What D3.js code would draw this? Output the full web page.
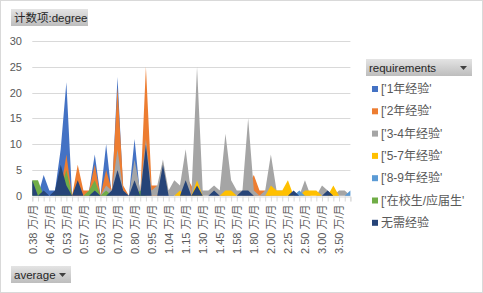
<!DOCTYPE html>
<html>
<head>
<meta charset="utf-8">
<script src="https://cdn.jsdelivr.net/npm/d3@7/dist/d3.min.js"></script>
<style>
  body { margin: 0; background: #fff; }
  text { font-family: "Liberation Sans", "Noto Sans CJK SC", sans-serif; }
</style>
</head>
<body>
<div id="chart"></div>
<script>
// salary buckets (only every 3rd one is labelled on the axis)
const cats = ['0.38','0.40','0.42','0.46','0.48','0.50','0.53','0.55','0.56','0.57',
  '0.58','0.60','0.63','0.65','0.67','0.70','0.73','0.75','0.80','0.83',
  '0.85','0.95','0.98','1.00','1.04','1.08','1.10','1.15','1.20','1.25',
  '1.30','1.35','1.40','1.45','1.50','1.55','1.58','1.60','1.75','1.80',
  '1.83','1.90','2.00','2.08','2.20','2.25','2.30','2.40','2.50','2.60',
  '2.75','3.00','3.25','3.33','3.50','4.00','4.50'];

const seriesNames = ["['1年经验'", "['2年经验'", "['3-4年经验'", "['5-7年经验'", "['8-9年经验'", "['在校生/应届生'", "无需经验"];
const colors = ['#4472C4', '#ED7D31', '#A5A5A5', '#FFC000', '#5B9BD5', '#70AD47', '#264478'];

const exp1 = [0,0,4,1,1,9,22,0,0,0, 1,8,0,10,0,23,1,0,11,0, 0,0,0,0,1,0,0,0,0,0, 0,0,0,0,0,0,0,0,0,0, 0,0,0,0,0,0,0,0,0,0, 0,0,0,0,0,0,0];
const exp2 = [0,0,0,0,0,1,8,0,6,1, 1,6,0,5,1,21,2,0,2,0, 25,2,2,0,0,0,0,4,2,0, 0,0,0,1,0,0,0,0,2,4, 1,1,0,0,0,0,0,0,0,0, 0,0,0,0,0,0,0];
const exp34 = [0,0,0,0,0,0,0,0,0,0, 0,0,0,2,1,9,1,0,7,1, 11,1,2,7,1,3,2,9,0,25, 1,1,2,1,12,3,1,1,15,1, 0,1,8,1,1,0,0,0,3,0, 0,2,1,0,1,1,0];
const exp57 = [0,0,0,0,0,0,0,0,0,0, 0,0,0,0,0,0,0,0,0,0, 0,0,0,0,0,0,1,0,0,3, 0,0,0,0,1,1,0,0,0,0, 0,0,2,1,1,3,0,0,1,1, 1,0,0,2,0,0,0];
const exp89 = [0,0,0,0,0,0,0,0,0,0, 0,0,0,0,0,0,0,0,0,0, 0,0,0,0,0,0,0,0,0,0, 0,0,0,0,0,0,0,0,0,0, 0,0,0,0,0,0,0,1,0,0, 0,0,0,0,0,0,1];
const student = [3,3,0,0,0,1,5,0,0,0, 1,3,0,1,0,0,0,0,0,1, 0,0,0,0,0,0,0,0,0,0, 0,0,0,0,0,0,0,0,0,0, 0,0,0,0,0,0,0,0,0,0, 0,0,0,0,0,0,0];
const noExp = [3,0,1,0,1,6,2,0,3,0, 0,1,0,0,1,5,1,0,3,0, 10,0,0,6,0,0,0,3,0,2, 0,0,1,0,0,0,0,1,1,0, 0,0,0,0,0,0,1,0,0,0, 0,0,1,0,0,0,0];

const series = [exp1, exp2, exp34, exp57, exp89, student, noExp];
const yTicks = [0, 5, 10, 15, 20, 25, 30];

const width = 483, height = 293;
const plot = { left: 32.3, right: 350.4, top: 41, bottom: 195.7 };

const svg = d3.select('#chart').append('svg')
  .attr('width', width)
  .attr('height', height);

svg.append('rect')
  .attr('x', 0.5).attr('y', 0.5)
  .attr('width', width - 1).attr('height', height - 1)
  .attr('fill', '#fff').attr('stroke', '#d9d9d9');

const x = d3.scalePoint().domain(cats).range([plot.left, plot.right]);
const y = d3.scaleLinear().domain([0, 30]).range([plot.bottom, plot.top]);

// gridlines
svg.append('g')
  .selectAll('line')
  .data(yTicks.slice(1))
  .join('line')
    .attr('x1', plot.left).attr('x2', plot.right)
    .attr('y1', d => Math.round(y(d)) + 0.5).attr('y2', d => Math.round(y(d)) + 0.5)
    .attr('stroke', '#d9d9d9');

// y axis labels
svg.append('g')
  .attr('transform', 'translate(22,0)')
  .call(d3.axisLeft(y).tickValues(yTicks).tickSize(0).tickPadding(0))
  .call(g => g.select('.domain').remove())
  .selectAll('text')
    .attr('font-size', '11px')
    .attr('fill', '#595959')
    .style('font-family', '"Liberation Sans", sans-serif');

// areas, drawn back to front in series order
const area = d3.area()
  .x((d, i) => x(cats[i]))
  .y0(y(0))
  .y1(d => y(d));

svg.append('g')
  .selectAll('path')
  .data(series)
  .join('path')
    .attr('d', d => area(d))
    .attr('fill', (d, i) => colors[i]);

// x axis
const xAxis = svg.append('g')
  .attr('transform', `translate(0,${Math.round(plot.bottom) + 0.5})`)
  .call(d3.axisBottom(x).tickSize(5).tickPadding(3)
    .tickFormat((d, i) => i % 3 === 0 ? d + ' 万/月' : ''));
xAxis.select('.domain').attr('stroke', '#d9d9d9');
xAxis.selectAll('.tick line').attr('stroke', '#d9d9d9');
xAxis.selectAll('text')
  .attr('font-size', '11px')
  .attr('fill', '#595959')
  .attr('transform', 'rotate(-90)')
  .attr('text-anchor', 'end')
  .attr('x', -8)
  .attr('y', 0)
  .attr('dy', '0.35em');

// pivot field buttons
const defs = svg.append('defs');
const grad = defs.append('linearGradient')
  .attr('id', 'btnGrad').attr('x1', 0).attr('y1', 0).attr('x2', 0).attr('y2', 1);
grad.append('stop').attr('offset', '0%').attr('stop-color', '#e4e4e4');
grad.append('stop').attr('offset', '100%').attr('stop-color', '#bdbdbd');

function fieldButton(bx, by, bw, label, arrow) {
  const g = svg.append('g').attr('transform', `translate(${bx},${by})`);
  g.append('rect')
    .attr('width', bw).attr('height', 17)
    .attr('fill', 'url(#btnGrad)');
  g.append('text')
    .attr('x', 3).attr('y', 13)
    .attr('font-size', '11.5px')
    .attr('fill', '#262626')
    .text(label);
  if (arrow) {
    g.append('path')
      .attr('d', `M${bw - 12},7 h7 l-3.5,4 z`)
      .attr('fill', '#404040');
  }
}

fieldButton(11, 9, 77, '计数项:degree', false);
fieldButton(366, 59, 106, 'requirements', true);
fieldButton(11, 266, 60, 'average', true);

// legend
const legend = svg.append('g')
  .selectAll('g')
  .data(seriesNames)
  .join('g')
    .attr('transform', (d, i) => `translate(372,${89 + i * 22.3})`);

legend.append('rect')
  .attr('x', 0).attr('y', -3)
  .attr('width', 6).attr('height', 6)
  .attr('fill', (d, i) => colors[i]);

legend.append('text')
  .attr('x', 9).attr('y', 4)
  .attr('font-size', '12px')
  .attr('fill', '#595959')
  .text(d => d);
</script>
</body>
</html>
